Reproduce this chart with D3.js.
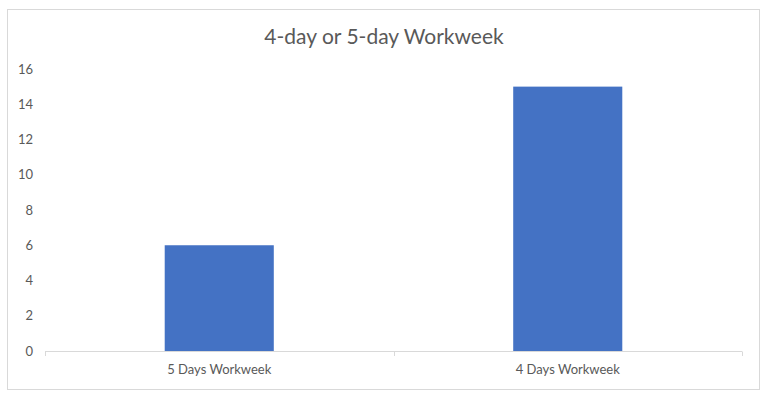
<!DOCTYPE html>
<html><head><meta charset="utf-8">
<script src="https://cdn.jsdelivr.net/npm/d3@7"></script>
<style>body{margin:0;background:#fff;}svg{display:block;font-family:Lato,"Open Sans",sans-serif;}</style>
</head><body>
<svg id="c" width="768" height="402"></svg>
<script>
const categories = ["5 Days Workweek", "4 Days Workweek"];
const values = [6, 15];
const yTicks = [0, 2, 4, 6, 8, 10, 12, 14, 16];
const title = "4-day or 5-day Workweek";

const svg = d3.select("#c");
svg.append("rect").attr("x", 7.5).attr("y", 9.5).attr("width", 752).attr("height", 380)
  .attr("fill", "#fff").attr("stroke", "#d9d9d9").attr("stroke-width", 1);

const xb = d3.scaleBand().domain(categories).range([45, 742]);
const barFrac = 0.313;
const barW = xb.bandwidth() * barFrac;
const y = d3.scaleLinear().domain([0, 16]).range([351, 69]);

svg.append("text").attr("x", 384).attr("y", 44).attr("text-anchor", "middle")
  .attr("font-size", 21).attr("fill", "#595959").text(title);

svg.selectAll("text.yt").data(yTicks).enter().append("text").attr("class", "yt")
  .attr("x", 33).attr("y", d => y(d)).attr("dy", "0.35em").attr("text-anchor", "end")
  .attr("font-size", 13).attr("fill", "#595959").text(d => d);

svg.selectAll("rect.bar").data(values).enter().append("rect").attr("class", "bar")
  .attr("x", (d, i) => xb(categories[i]) + (xb.bandwidth() - barW) / 2).attr("width", barW)
  .attr("y", d => y(d)).attr("height", d => y(0) - y(d)).attr("fill", "#4472c4");

svg.append("line").attr("x1", 45).attr("x2", 742).attr("y1", 351.5).attr("y2", 351.5)
  .attr("stroke", "#d9d9d9");
const edges = [45, 742].concat(categories.slice(1).map(c => xb(c)));
svg.selectAll("line.tk").data(edges).enter().append("line").attr("class", "tk")
  .attr("x1", d => Math.round(d) + 0.5).attr("x2", d => Math.round(d) + 0.5)
  .attr("y1", 351.5).attr("y2", 356).attr("stroke", "#d9d9d9");

svg.selectAll("text.xt").data(categories).enter().append("text").attr("class", "xt")
  .attr("x", d => xb(d) + xb.bandwidth() / 2).attr("y", 374).attr("text-anchor", "middle")
  .attr("font-size", 13).attr("fill", "#595959").text(d => d);
</script>
</body></html>
